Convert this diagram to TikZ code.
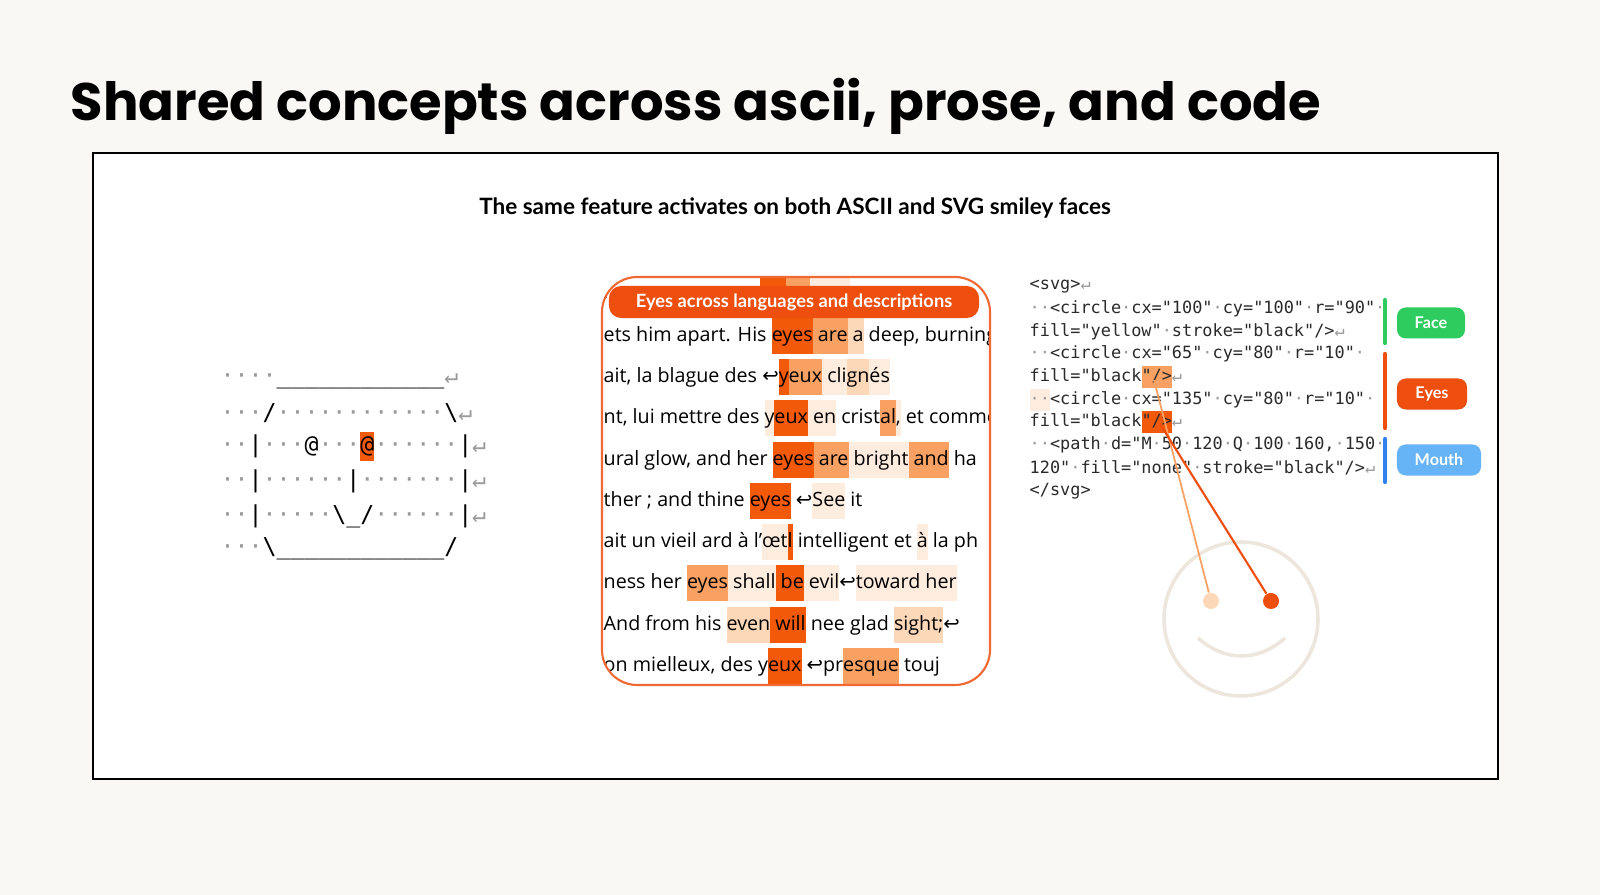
\documentclass[tikz,border=0pt]{standalone}
\usepackage{fontspec}
\setmainfont{Open Sans}
\newfontfamily\titlefont{Poppins}
\newfontfamily\labelfont{Lato}
\newfontfamily\codefont{DejaVu Sans Mono}
\newfontfamily\symfont{DejaVu Sans}
\usepackage{tikz}

\definecolor{pagebg}{HTML}{F9F8F4}
\definecolor{hlA}{HTML}{F25A0A}
\definecolor{hlB}{HTML}{F8A163}
\definecolor{hlC}{HTML}{FDD8B8}
\definecolor{hlD}{HTML}{FEEDDF}
\definecolor{dotgray}{HTML}{9A9A9A}
\definecolor{codeink}{HTML}{2A2A2A}
\definecolor{facegreen}{HTML}{2ECC5E}
\definecolor{eyesorange}{HTML}{EE4E0E}
\definecolor{mouthblue}{HTML}{66B3F5}
\definecolor{barblue}{HTML}{2F80ED}
\definecolor{smileline}{HTML}{EDE6DC}

\setlength{\fboxsep}{0pt}
\newcommand{\hl}[2]{\colorbox{#1}{\rule[-0.6em]{0pt}{1.8em}#2}}
\newcommand{\ret}{{\symfont ↩}}
\newcommand{\dt}{{\color{dotgray}·}}
\newcommand{\nl}{{\color{dotgray}↵}}

\tikzset{
  prose/.style={anchor=west, inner sep=0pt, font=\fontsize{5.6}{6}\selectfont, text=black},
  ascii/.style={anchor=west, inner sep=0pt, font=\codefont\fontsize{6.6}{7}\selectfont},
  code/.style={anchor=west, inner sep=0pt, font=\codefont\fontsize{4.8}{5}\selectfont, text=codeink},
  tag/.style={rounded corners=2.5pt, inner sep=0pt, minimum height=0.31cm, text=white,
    font=\labelfont\bfseries\fontsize{4.6}{5}\selectfont},
  bar/.style={line width=1.2pt, line cap=round},
  eye/.style={circle, inner sep=0pt, minimum size=0.16cm},
}

\begin{document}
\begin{tikzpicture}[x=0.01cm, y=-0.01cm]
  \fill[pagebg] (0,0) rectangle (1600,895);
  \useasboundingbox (0,0) rectangle (1600,895);

  % title and frame
  \node[anchor=base west, inner sep=0pt, font=\titlefont\bfseries\fontsize{15}{17}\selectfont] (title) at (70,121)
    {Shared concepts across ascii, prose, and code};
  \draw[fill=white, line width=0.5pt] (93,153) rectangle (1498,779);
  \node[font=\labelfont\bfseries\fontsize{6.4}{7}\selectfont] (sub) at (795,208)
    {The same feature activates on both ASCII and SVG smiley faces};

  % ascii face
  \node[ascii] (a1) at (220,381) {\dt\dt\dt\dt\_\_\_\_\_\_\_\_\_\_\_\_\nl};
  \node[ascii] (a2) at (220,413) {\dt\dt\dt/\dt\dt\dt\dt\dt\dt\dt\dt\dt\dt\dt\dt\textbackslash\nl};
  \node[ascii] (a3) at (220,447) {\dt\dt|\dt\dt\dt@\dt\dt\dt\colorbox{hlA}{\rule[-0.4em]{0pt}{1.25em}@}\dt\dt\dt\dt\dt\dt|\nl};
  \node[ascii] (a4) at (220,481) {\dt\dt|\dt\dt\dt\dt\dt\dt|\dt\dt\dt\dt\dt\dt\dt|\nl};
  \node[ascii] (a5) at (220,516) {\dt\dt|\dt\dt\dt\dt\dt\textbackslash\_/\dt\dt\dt\dt\dt\dt|\nl};
  \node[ascii] (a6) at (220,549) {\dt\dt\dt\textbackslash\_\_\_\_\_\_\_\_\_\_\_\_/};

  % prose panel
  \begin{scope}
    \clip[rounded corners=10pt] (602,277) rectangle (990,685);
    \fill[hlA] (760,277) rectangle (786,300);
    \fill[hlB] (786,277) rectangle (810,300);
    \fill[hlD] (810,277) rectangle (850,300);
    \node[prose] (p0) at (603,293) {r};
    \node[prose] (p1) at (603,336) {ets him apart. His \hl{hlA}{eyes}\hl{hlB}{ are}\hl{hlC}{ a} deep, burning};
    \node[prose] (p2) at (603,377) {ait, la blague des \ret\hl{hlA}{y}\hl{hlB}{eux}\hl{hlD}{ cli}\hl{hlC}{gn}\hl{hlD}{és}};
    \node[prose] (p3) at (603,418) {nt, lui mettre des \hl{hlD}{y}\hl{hlA}{eux}\hl{hlD}{ en} crist\hl{hlB}{al}\hl{hlD}{,} et comme};
    \node[prose] (p4) at (603,460) {ural glow, and her \hl{hlA}{eyes}\hl{hlB}{ are}\hl{hlD}{ bright}\hl{hlB}{ and} ha};
    \node[prose] (p5) at (603,501) {ther ; and thine \hl{hlA}{eyes} \ret\hl{hlD}{See} it};
    \node[prose] (p6) at (603,542) {ait un vieil ard à l'\hl{hlD}{œt}\hl{hlA}{l} intelligent et \hl{hlD}{à} la ph};
    \node[prose] (p7) at (603,583) {ness her \hl{hlB}{eyes}\hl{hlD}{ shall}\hl{hlA}{ be}\hl{hlD}{ evil}\ret\hl{hlD}{toward her}};
    \node[prose] (p8) at (603,625) {And from his \hl{hlC}{even}\hl{hlA}{ will} nee glad \hl{hlC}{sight;}\ret};
    \node[prose] (p9) at (603,666) {on mielleux, des y\hl{hlA}{eux} \ret pr\hl{hlB}{esque} touj};
  \end{scope}
  \draw[eyesorange!85, line width=0.6pt, rounded corners=10pt] (602,277) rectangle (990,685);
  \node[tag, fill=eyesorange, minimum width=3.7cm, minimum height=0.32cm, rounded corners=3.5pt,
    font=\labelfont\bfseries\fontsize{5.2}{6}\selectfont] (head) at (794,302)
    {Eyes across languages and descriptions};

  % svg code
  \node[code] (c0) at (1029,287) {<svg>\nl};
  \node[code] (c1) at (1029,309) {\dt\dt<circle\dt cx="100"\dt cy="100"\dt r="90"\dt};
  \node[code] (c2) at (1029,332) {fill="yellow"\dt stroke="black"/>\nl};
  \node[code] (c3) at (1029,354) {\dt\dt<circle\dt cx="65"\dt cy="80"\dt r="10"\dt};
  \node[code] (c4) at (1029,377) {fill="black\colorbox{hlB}{\rule[-0.35em]{0pt}{1.25em}"/>}\nl};
  \node[code] (c5) at (1029,400) {\colorbox{hlD}{\rule[-0.35em]{0pt}{1.25em}\dt\dt}<circle\dt cx="135"\dt cy="80"\dt r="10"\dt};
  \node[code] (c6) at (1029,422) {fill="black\colorbox{hlA}{\rule[-0.35em]{0pt}{1.25em}"/>}\nl};
  \node[code] (c7) at (1029,445) {\dt\dt<path\dt d="M\dt 50\dt 120\dt Q\dt 100\dt 160,\dt 150\dt};
  \node[code] (c8) at (1029,468) {120"\dt fill="none"\dt stroke="black"/>\nl};
  \node[code] (c9) at (1029,491) {</svg>};

  % part labels
  \draw[bar, facegreen] (1385,300) -- (1385,343);
  \draw[bar, eyesorange] (1385,354) -- (1385,428);
  \draw[bar, barblue] (1385,439) -- (1385,482);
  \node[tag, fill=facegreen, minimum width=0.68cm] (face) at (1431,323) {Face};
  \node[tag, fill=eyesorange, minimum width=0.70cm] (eyes) at (1432,394) {Eyes};
  \node[tag, fill=mouthblue, minimum width=0.84cm] (mouth) at (1439,460) {Mouth};

  % smiley
  \draw[smileline, line width=1pt, fill=white] (1241,619) circle (77);
  \draw[smileline, line width=1pt] (1198,638) .. controls (1225,662) and (1258,662) .. (1285,638);
  \node[eye, fill=hlC] (leye) at (1211,601) {};
  \node[eye, fill=eyesorange] (reye) at (1271,601) {};
  \coordinate (tipA) at (1154,380);
  \coordinate (tipB) at (1160,424);
  \draw[hlB, line width=0.5pt] (tipA) -- (leye);
  \draw[eyesorange, line width=0.6pt] (tipB) -- (reye);
\end{tikzpicture}
\end{document}
